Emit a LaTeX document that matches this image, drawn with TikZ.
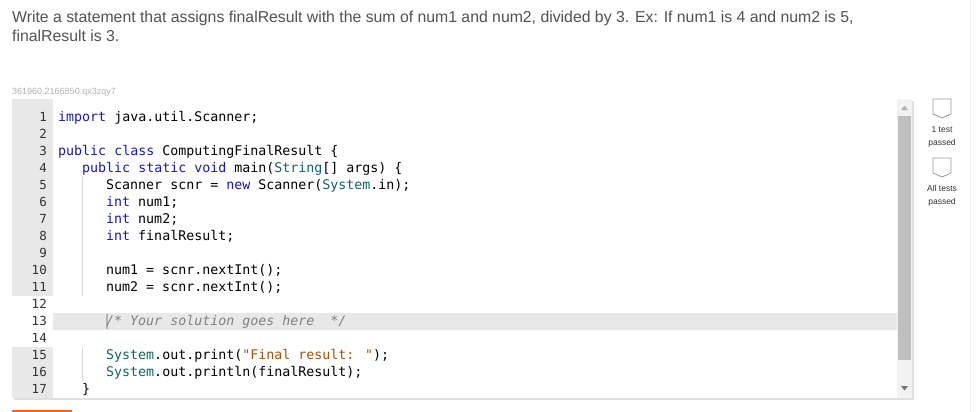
\documentclass[tikz,border=0pt]{standalone}
\usepackage{fontspec}
\setmainfont{Liberation Sans}
\newfontfamily\codefont{DejaVu Sans Mono}
\usetikzlibrary{positioning}
\definecolor{kwblue}{HTML}{1A1AA6}
\definecolor{typeteal}{HTML}{116464}
\definecolor{strbrown}{HTML}{A0550A}
\definecolor{gutter}{HTML}{E8E8E8}
\definecolor{txtgray}{HTML}{333333}
\tikzset{
  codeline/.style={anchor=base west, inner sep=0pt, font=\codefont\fontsize{13.3}{13.3}\selectfont, text=black},
  lineno/.style={anchor=base east, inner sep=0pt, font=\codefont\fontsize{12.5}{12.5}\selectfont, text=txtgray},
  badgetext/.style={inner sep=0pt, align=center, font=\fontsize{8.5}{13}\selectfont, text=txtgray},
  question/.style={anchor=base west, inner sep=0pt, text=txtgray!85, font=\fontsize{15.8}{15.8}\selectfont},
  guide/.style={draw=gray!30, line width=0.8pt}
}
\newcommand{\kw}[1]{\textcolor{kwblue}{#1}}
\newcommand{\ty}[1]{\textcolor{typeteal}{#1}}
\begin{document}
\begin{tikzpicture}[x=1pt,y=-1pt]
    \useasboundingbox[fill=white] (0,0) rectangle (977,412);
    % question text
    \node[question] (q1) at (12,23) {Write a statement that assigns finalResult with the sum of num1 and num2, divided by 3. Ex: If num1 is 4 and num2 is 5,};
    \node[question] (q2) at (12,42) {finalResult is 3.};
    \node[anchor=base west, inner sep=0pt, text=gray!60, font=\fontsize{9}{9}\selectfont] (id) at (12,94) {361960.2166850.qx3zqy7};
    % editor
    \fill[gray!25] (14,101) rectangle (914,400);
    \fill[white] (12,99) rectangle (912,398);
    \fill[gutter] (12,99) rectangle (53,398);
    \fill[white] (12,296) rectangle (53,347);
    \fill[gray!18] (53,313) rectangle (897,330);
    \foreach \n in {1,...,17}
      \node[lineno] (n\n) at (47,{121+17*(\n-1)}) {\n};
    % indent guides
    \draw[guide] (82,177) -- (82,296);
    \draw[guide] (82,347) -- (82,381);
    \draw[gray!60, line width=1.5pt] (107,314) -- (107,329);
    % code
    \node[codeline] (c1) at (58,121) {\kw{import} java.util.Scanner;};
    \node[codeline] (c3) at (58,155) {\kw{public} \kw{class} ComputingFinalResult \{};
    \node[codeline] (c4) at (82,172) {\kw{public} \kw{static} \kw{void} main(\ty{String}[] args) \{};
    \node[codeline] (c5) at (106,189) {Scanner scnr = \kw{new} Scanner(\ty{System}.in);};
    \node[codeline] (c6) at (106,206) {\kw{int} num1;};
    \node[codeline] (c7) at (106,223) {\kw{int} num2;};
    \node[codeline] (c8) at (106,240) {\kw{int} finalResult;};
    \node[codeline] (c10) at (106,274) {num1 = scnr.nextInt();};
    \node[codeline] (c11) at (106,291) {num2 = scnr.nextInt();};
    \node[codeline, text=gray, font=\codefont\itshape\fontsize{13.3}{13.3}\selectfont] (c13) at (106,325) {/* Your solution goes here~~*/};
    \node[codeline] (c15) at (106,359) {\ty{System}.out.print(\textcolor{strbrown}{"Final result: "});};
    \node[codeline] (c16) at (106,376) {\ty{System}.out.println(finalResult);};
    \node[codeline] (c17) at (82,393) {\}};
    % scrollbar
    \fill[gray!10] (897,99) rectangle (912,398);
    \fill[gray!50] (898,116) rectangle (911,360);
    \fill[gray!60] (901,110) -- (908,110) -- (904.5,105.5) -- cycle;
    \fill[gray!90!black] (901,386) -- (908,386) -- (904.5,390.5) -- cycle;
    % badges
    \draw[gray!80, line width=0.8pt] (933,99) -- (951,99) -- (951,114) -- (942,118) -- (933,114) -- cycle;
    \node[badgetext] (b1) at (942,137) {1 test\\passed};
    \draw[gray!80, line width=0.8pt] (933,158) -- (951,158) -- (951,173) -- (942,177) -- (933,173) -- cycle;
    \node[badgetext] (b2) at (942,196) {All tests\\passed};
    \draw[gray!15, line width=1pt] (970,0) -- (970,412);
    \draw[orange!80!red, line width=1.5pt] (12,411) -- (72,411);
\end{tikzpicture}
\end{document}
